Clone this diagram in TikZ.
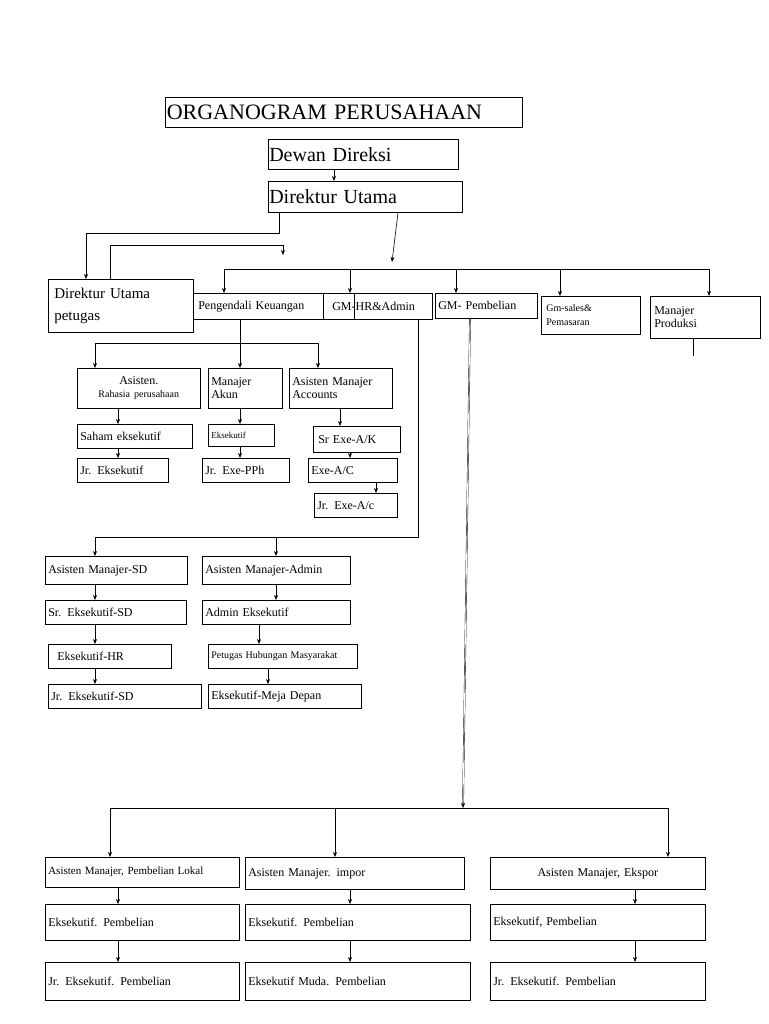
\documentclass[tikz,border=0pt]{standalone}
\usepackage{fontspec}
\setmainfont{Liberation Serif}
\usetikzlibrary{arrows.meta}
\begin{document}
\begin{tikzpicture}[x=1pt,y=-1pt,
 box/.style={draw,line width=0.6pt,anchor=north west,inner sep=3pt,align=left,font=\fontsize{12}{13}\selectfont},
 arr/.style={line width=0.6pt,-{Stealth[length=5pt,width=4pt]}},
 ln/.style={line width=0.6pt}]
\useasboundingbox[fill=white] (0,0) rectangle (768,1024);
\newcommand\bx[7][]{\node[box,minimum width={#5-#3},minimum height={#6-#4},text width={#5-#3-6},#1] (#2) at (#3,#4) {#7};}
\bx[font=\fontsize{22}{24}\selectfont,inner sep=1pt,text width=354]{t}{165}{97}{522}{127}{ORGANOGRAM PERUSAHAAN}
\bx[font=\fontsize{20}{22}\selectfont,inner sep=1pt,text width=188]{dd}{268}{139}{458}{169}{Dewan Direksi}
\bx[font=\fontsize{20}{22}\selectfont,inner sep=1pt,text width=192]{du}{268}{181}{462}{212}{Direktur Utama}
\bx[font=\fontsize{15}{22}\selectfont,inner sep=6pt]{dp}{48}{279}{187}{332}{Direktur Utama\\petugas}
\bx[font=\fontsize{12}{13}\selectfont,inner sep=5pt]{pk}{193}{293}{350}{319}{Pengendali Keuangan}
\bx{hr}{323}{293}{432}{319}{\hspace{6pt}GM-HR\&Admin}
\bx{gp}{435}{293}{537}{318}{GM- Pembelian}
\bx[font=\fontsize{10}{14}\selectfont,inner sep=5pt]{gs}{541}{296}{636}{334}{Gm-sales\&\\Pemasaran}
\bx[inner sep=4pt]{mp}{650}{296}{758}{338}{Manajer\\Produksi}
\bx[align=center]{ar}{77}{368}{200}{408}{Asisten.\\{\fontsize{10}{12}\selectfont Rahasia perusahaan}}
\bx{ma}{208}{368}{282}{408}{Manajer\\Akun}
\bx{am}{289}{368}{392}{408}{Asisten Manajer\\Accounts}
\bx{se}{77}{424}{192}{448}{Saham eksekutif}
\bx[font=\fontsize{9}{10}\selectfont]{ek}{208}{424}{274}{446}{Eksekutif}
\bx{sr}{313}{426}{400}{452}{\hspace{2pt}Sr Exe-A/K}
\bx{je}{77}{458}{168}{482}{Jr. Eksekutif}
\bx{jp}{202}{458}{289}{482}{Jr. Exe-PPh}
\bx{ea}{308}{458}{397}{482}{Exe-A/C}
\bx{ja}{314}{493}{397}{517}{Jr. Exe-A/c}
\bx{asd}{45}{556}{187}{584}{Asisten Manajer-SD}
\bx{aad}{202}{556}{350}{584}{Asisten Manajer-Admin}
\bx{ssd}{45}{600}{186}{624}{Sr. Eksekutif-SD}
\bx{ae}{202}{600}{350}{624}{Admin Eksekutif}
\bx{ehr}{48}{644}{171}{668}{\hspace{6pt}Eksekutif-HR}
\bx[font=\fontsize{10}{12}\selectfont]{phm}{208}{644}{357}{668}{Petugas Hubungan Masyarakat}
\bx{jsd}{48}{684}{201}{708}{Jr. Eksekutif-SD}
\bx{emd}{208}{684}{361}{708}{Eksekutif-Meja Depan}
\bx[font=\fontsize{11}{12}\selectfont]{pl}{45}{857}{239}{887}{Asisten Manajer, Pembelian Lokal}
\bx{im}{245}{857}{464}{889}{Asisten Manajer. impor}
\bx[align=center]{ex}{490}{857}{705}{889}{Asisten Manajer, Ekspor}
\bx{e1}{45}{904}{239}{940}{Eksekutif. Pembelian}
\bx{e2}{245}{904}{470}{940}{Eksekutif. Pembelian}
\bx{e3}{490}{904}{705}{940}{Eksekutif, Pembelian}
\bx{j1}{45}{962}{239}{1000}{Jr. Eksekutif. Pembelian}
\bx{j2}{245}{962}{470}{1000}{Eksekutif Muda. Pembelian}
\bx{j3}{490}{962}{705}{1000}{Jr. Eksekutif. Pembelian}
% top
\draw[arr] (dd.south -| 334,0) -- (du.north -| 334,0);
\draw[arr] (du.south -| 279,0) -- (279,233) -- (86,233) -- (dp.north -| 86,0);
\coordinate (c1) at (283,255);
\draw[arr] (dp.north -| 110,0) -- (110,245) -- (283,245) -- (c1);
\coordinate (c2) at (392,262);
\draw[arr] (du.south -| 398,0) -- (c2);
\draw[ln] (224,269) -- (709,269);
\foreach \n/\x in {pk/224,hr/350,gp/456,gs/560,mp/709} \draw[arr] (\x,269) -- (\n.north -| \x,0);
\coordinate (c3) at (693,356);
\draw[ln] (mp.south -| 693,0) -- (c3);
% finance
\draw[ln] (pk.south -| 240,0) -- (240,343); \draw[ln] (95,343) -- (318,343);
\draw[arr] (95,343) -- (ar.north -| 95,0);
\draw[arr] (240,343) -- (ma.north -| 240,0);
\draw[arr] (318,343) -- (am.north -| 318,0);
\draw[arr] (ar.south -| 118,0) -- (se.north -| 118,0);
\draw[arr] (se.south -| 118,0) -- (je.north -| 118,0);
\draw[arr] (ma.south -| 240,0) -- (ek.north -| 240,0);
\draw[arr] (ek.south -| 240,0) -- (jp.north -| 240,0);
\draw[arr] (am.south -| 340,0) -- (sr.north -| 340,0);
\draw[arr] (sr.south -| 350,0) -- (ea.north -| 350,0);
\draw[arr] (ea.south -| 376,0) -- (ja.north -| 376,0);
% HR
\draw[ln] (hr.south -| 418,0) -- (418,537) -- (95,537);
\draw[arr] (95,537) -- (asd.north -| 95,0);
\draw[arr] (276,537) -- (aad.north -| 276,0);
\draw[arr] (asd.south -| 95,0) -- (ssd.north -| 95,0);
\draw[arr] (ssd.south -| 95,0) -- (ehr.north -| 95,0);
\draw[arr] (ehr.south -| 95,0) -- (jsd.north -| 95,0);
\draw[arr] (aad.south -| 276,0) -- (ae.north -| 276,0);
\draw[arr] (ae.south -| 259,0) -- (phm.north -| 259,0);
\draw[arr] (phm.south -| 268,0) -- (emd.north -| 268,0);
% purchasing
\coordinate (c4) at (463,808);
\draw[arr,double distance=0.8pt,line width=0.4pt] (gp.south -| 470,0) -- (c4);
\draw[ln] (110,808) -- (668,808);
\draw[arr] (110,808) -- (pl.north -| 110,0);
\draw[arr] (335,808) -- (im.north -| 335,0);
\draw[arr] (668,808) -- (ex.north -| 668,0);
\draw[arr] (pl.south -| 118,0) -- (e1.north -| 118,0);
\draw[arr] (e1.south -| 118,0) -- (j1.north -| 118,0);
\draw[arr] (im.south -| 350,0) -- (e2.north -| 350,0);
\draw[arr] (e2.south -| 350,0) -- (j2.north -| 350,0);
\draw[arr] (ex.south -| 635,0) -- (e3.north -| 635,0);
\draw[arr] (e3.south -| 635,0) -- (j3.north -| 635,0);
\end{tikzpicture}
\end{document}
